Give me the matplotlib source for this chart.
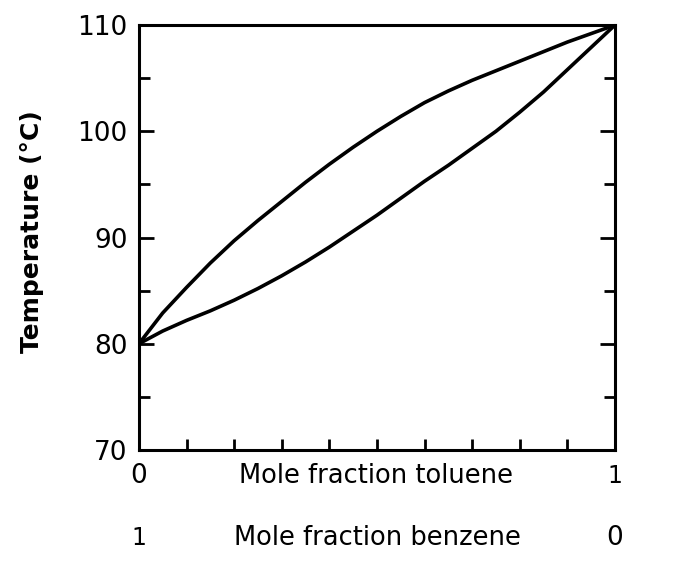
import matplotlib
matplotlib.use("Agg")
from matplotlib import pyplot as plt
import numpy as np

# mole fraction toluene
x_toluene = [0.0, 0.05, 0.1, 0.15, 0.2, 0.25, 0.3, 0.35, 0.4, 0.45, 0.5,
             0.55, 0.6, 0.65, 0.7, 0.75, 0.8, 0.85, 0.9, 0.95, 1.0]
# upper curve (dew point), deg C
t_dew = [80.0, 82.9, 85.3, 87.6, 89.7, 91.6, 93.4, 95.2, 96.9, 98.5, 100.0,
         101.4, 102.7, 103.8, 104.8, 105.7, 106.6, 107.5, 108.4, 109.2, 110.0]
# lower curve (bubble point), deg C
t_bubble = [80.0, 81.2, 82.2, 83.1, 84.1, 85.2, 86.4, 87.7, 89.1, 90.6, 92.1,
            93.7, 95.3, 96.8, 98.4, 100.0, 101.8, 103.7, 105.8, 107.9, 110.0]

y_major = [70, 80, 90, 100, 110]
y_minor = [75, 85, 95, 105]
x_minor = [0.1, 0.2, 0.3, 0.4, 0.5, 0.6, 0.7, 0.8, 0.9]


def main():
    fig = plt.figure(figsize=(6.98, 5.70), dpi=100)
    ax = fig.add_axes([0.199, 0.2105, 0.682, 0.7455])

    ax.plot(x_toluene, t_dew, color='black', lw=2.6, solid_joinstyle='round')
    ax.plot(x_toluene, t_bubble, color='black', lw=2.6, solid_joinstyle='round')

    ax.set_xlim(0, 1)
    ax.set_ylim(70, 110)

    for s in ax.spines.values():
        s.set_linewidth(2.2)

    ax.set_yticks(y_major)
    ax.set_yticks(y_minor, minor=True)
    ax.set_yticklabels([str(v) for v in y_major], fontsize=19)
    ax.set_xticks(x_minor, minor=True)
    ax.set_xticks([])

    ax.tick_params(axis='y', which='both', direction='in', right=True,
                   width=2.0, pad=8)
    ax.tick_params(axis='y', which='major', length=11)
    ax.tick_params(axis='y', which='minor', length=8)
    ax.tick_params(axis='x', which='minor', direction='in', length=8,
                   width=2.0, top=False)

    ax.set_ylabel('Temperature (°C)', fontsize=18, fontweight='bold')
    ax.yaxis.set_label_coords(-0.2, 0.513)

    tr = ax.transAxes
    ax.text(0.0, -0.06, '0', transform=tr, fontsize=19, ha='center', va='center')
    ax.text(1.0, -0.06, '1', transform=tr, fontsize=17, ha='center', va='center')
    ax.text(0.498, -0.06, 'Mole fraction toluene', transform=tr, fontsize=18.5,
            ha='center', va='center')
    ax.text(0.0, -0.208, '1', transform=tr, fontsize=17, ha='center', va='center')
    ax.text(1.0, -0.208, '0', transform=tr, fontsize=19, ha='center', va='center')
    ax.text(0.502, -0.208, 'Mole fraction benzene', transform=tr, fontsize=18.5,
            ha='center', va='center')

    fig.savefig('out.png', dpi=100)


if __name__ == '__main__':
    main()
